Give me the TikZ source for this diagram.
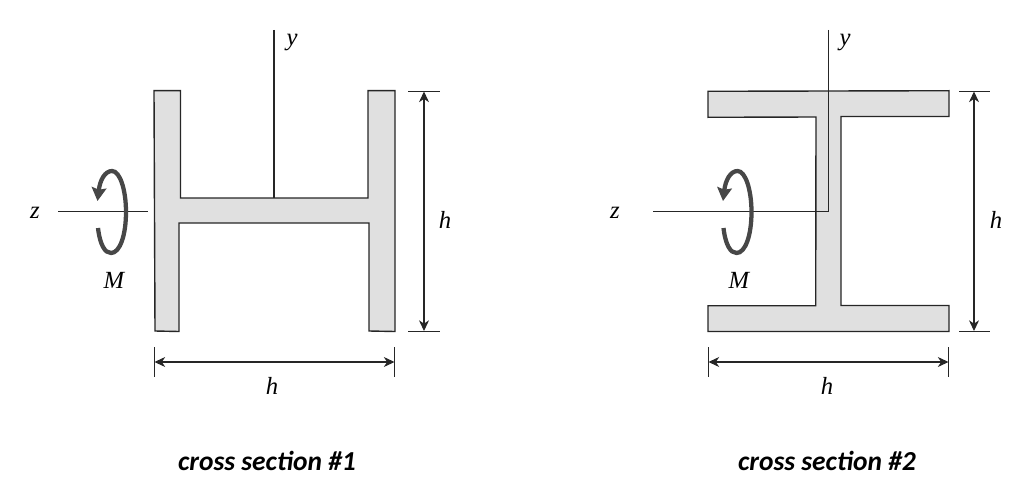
\documentclass[tikz,border=0pt]{standalone}
\usepackage{fontspec}
\setmainfont{Liberation Serif}
\newfontfamily\titlefont{Carlito}
\usetikzlibrary{arrows.meta}
\tikzset{
  x=0.75pt,y=-0.75pt,
  section/.style={draw=black!85,fill=black!12,line width=1.05pt,line join=miter},
  axisline/.style={draw=black!85,line width=0.85pt},
  dimline/.style={draw=black!85,line width=0.8pt,{Stealth[length=8pt,width=7.5pt,inset=2.5pt]}-{Stealth[length=8pt,width=7.5pt,inset=2.5pt]}},
  tick/.style={draw=black!85,line width=0.75pt},
  moment/.style={draw=black!72,line width=3.2pt,-{Stealth[length=10pt,width=11pt,inset=1.5pt]}},
  lab/.style={font=\itshape\fontsize{18.5}{20}\selectfont,text=black,inner sep=0pt},
  cap title/.style={font=\titlefont\bfseries\itshape\fontsize{20.6}{24}\selectfont,text=black,inner sep=0pt}
}
\begin{document}
\begin{tikzpicture}
\useasboundingbox (0,0) rectangle (1024,492);
% --- cross section 1
\draw[section] (154,90.7) -- (180.5,90.7) -- (180.5,198) -- (368,198) -- (368,90.7) -- (395,90.7) -- (395,331.5) -- (369,331) -- (369,223) -- (179,223) -- (179,331.5) -- (155,331) -- cycle;
\coordinate (y1top) at (274,30);
\coordinate (y1bot) at (274,198);
\coordinate (z1l) at (58,211.5);
\coordinate (z1r) at (148,211.5);
\draw[axisline] (y1top) -- (y1bot);
\draw[axisline] (z1l) -- (z1r);
\path[moment] (98,228) .. controls (100,245) and (105,253) .. (111,253) .. controls (120,253) and (126,235) .. (126,212) .. controls (126,190) and (120,171) .. (112,171) .. controls (105,171) and (100,180) .. (97.5,201);
\node[lab] (ly1) at (292,43) {y};
\node[lab] (lz1) at (35,213) {z};
\node[lab] (lm1) at (114,280) {M};
\node[lab] (lh1v) at (445,220) {h};
\node[lab] (lh1h) at (272,386) {h};
\coordinate (a1t) at (408,91.5);
\coordinate (b1t) at (440,91.5);
\coordinate (a1b) at (408,331);
\coordinate (b1b) at (440,331);
\coordinate (v1t) at (424,91.5);
\coordinate (v1b) at (424,331);
\draw[tick] (a1t) -- (b1t);
\draw[tick] (a1b) -- (b1b);
\draw[dimline] (v1t) -- (v1b);
\coordinate (c1l) at (154.5,347);
\coordinate (d1l) at (154.5,377);
\coordinate (c1r) at (394.5,347);
\coordinate (d1r) at (394.5,377);
\coordinate (h1l) at (154.5,362);
\coordinate (h1r) at (394.5,362);
\draw[tick] (c1l) -- (d1l);
\draw[tick] (c1r) -- (d1r);
\draw[dimline] (h1l) -- (h1r);
\node[cap title] (t1) at (267,461) {cross section \#1};
% --- cross section 2
\draw[section] (708,91.3) -- (949,90.7) -- (949,116.5) -- (841,116.5) -- (841,305.5) -- (949,305.5) -- (949,331.5) -- (708,331.5) -- (708,305.7) -- (815.7,305.7) -- (816,117) -- (708,117.3) -- cycle;
\coordinate (y2top) at (828.7,30);
\coordinate (y2bot) at (828.7,211.5);
\coordinate (z2l) at (652.7,211.5);
\draw[axisline] (y2top) -- (y2bot) -- (z2l);
\path[moment] (723.5,228) .. controls (725.5,245) and (730.5,253) .. (736.5,253) .. controls (745.5,253) and (751.5,235) .. (751.5,212) .. controls (751.5,190) and (745.5,171) .. (737.5,171) .. controls (730.5,171) and (725.5,180) .. (723,201);
\node[lab] (ly2) at (845,43) {y};
\node[lab] (lz2) at (615,213) {z};
\node[lab] (lm2) at (739,280) {M};
\node[lab] (lh2v) at (996,220) {h};
\node[lab] (lh2h) at (827,386) {h};
\coordinate (a2t) at (959,91.5);
\coordinate (b2t) at (990,91.5);
\coordinate (a2b) at (959,331);
\coordinate (b2b) at (990,331);
\coordinate (v2t) at (974,91.5);
\coordinate (v2b) at (974,331);
\draw[tick] (a2t) -- (b2t);
\draw[tick] (a2b) -- (b2b);
\draw[dimline] (v2t) -- (v2b);
\coordinate (c2l) at (708.5,347);
\coordinate (d2l) at (708.5,377);
\coordinate (c2r) at (948.5,347);
\coordinate (d2r) at (948.5,377);
\coordinate (h2l) at (708.5,362);
\coordinate (h2r) at (948.5,362);
\draw[tick] (c2l) -- (d2l);
\draw[tick] (c2r) -- (d2r);
\draw[dimline] (h2l) -- (h2r);
\node[cap title] (t2) at (827,461) {cross section \#2};
\end{tikzpicture}
\end{document}
